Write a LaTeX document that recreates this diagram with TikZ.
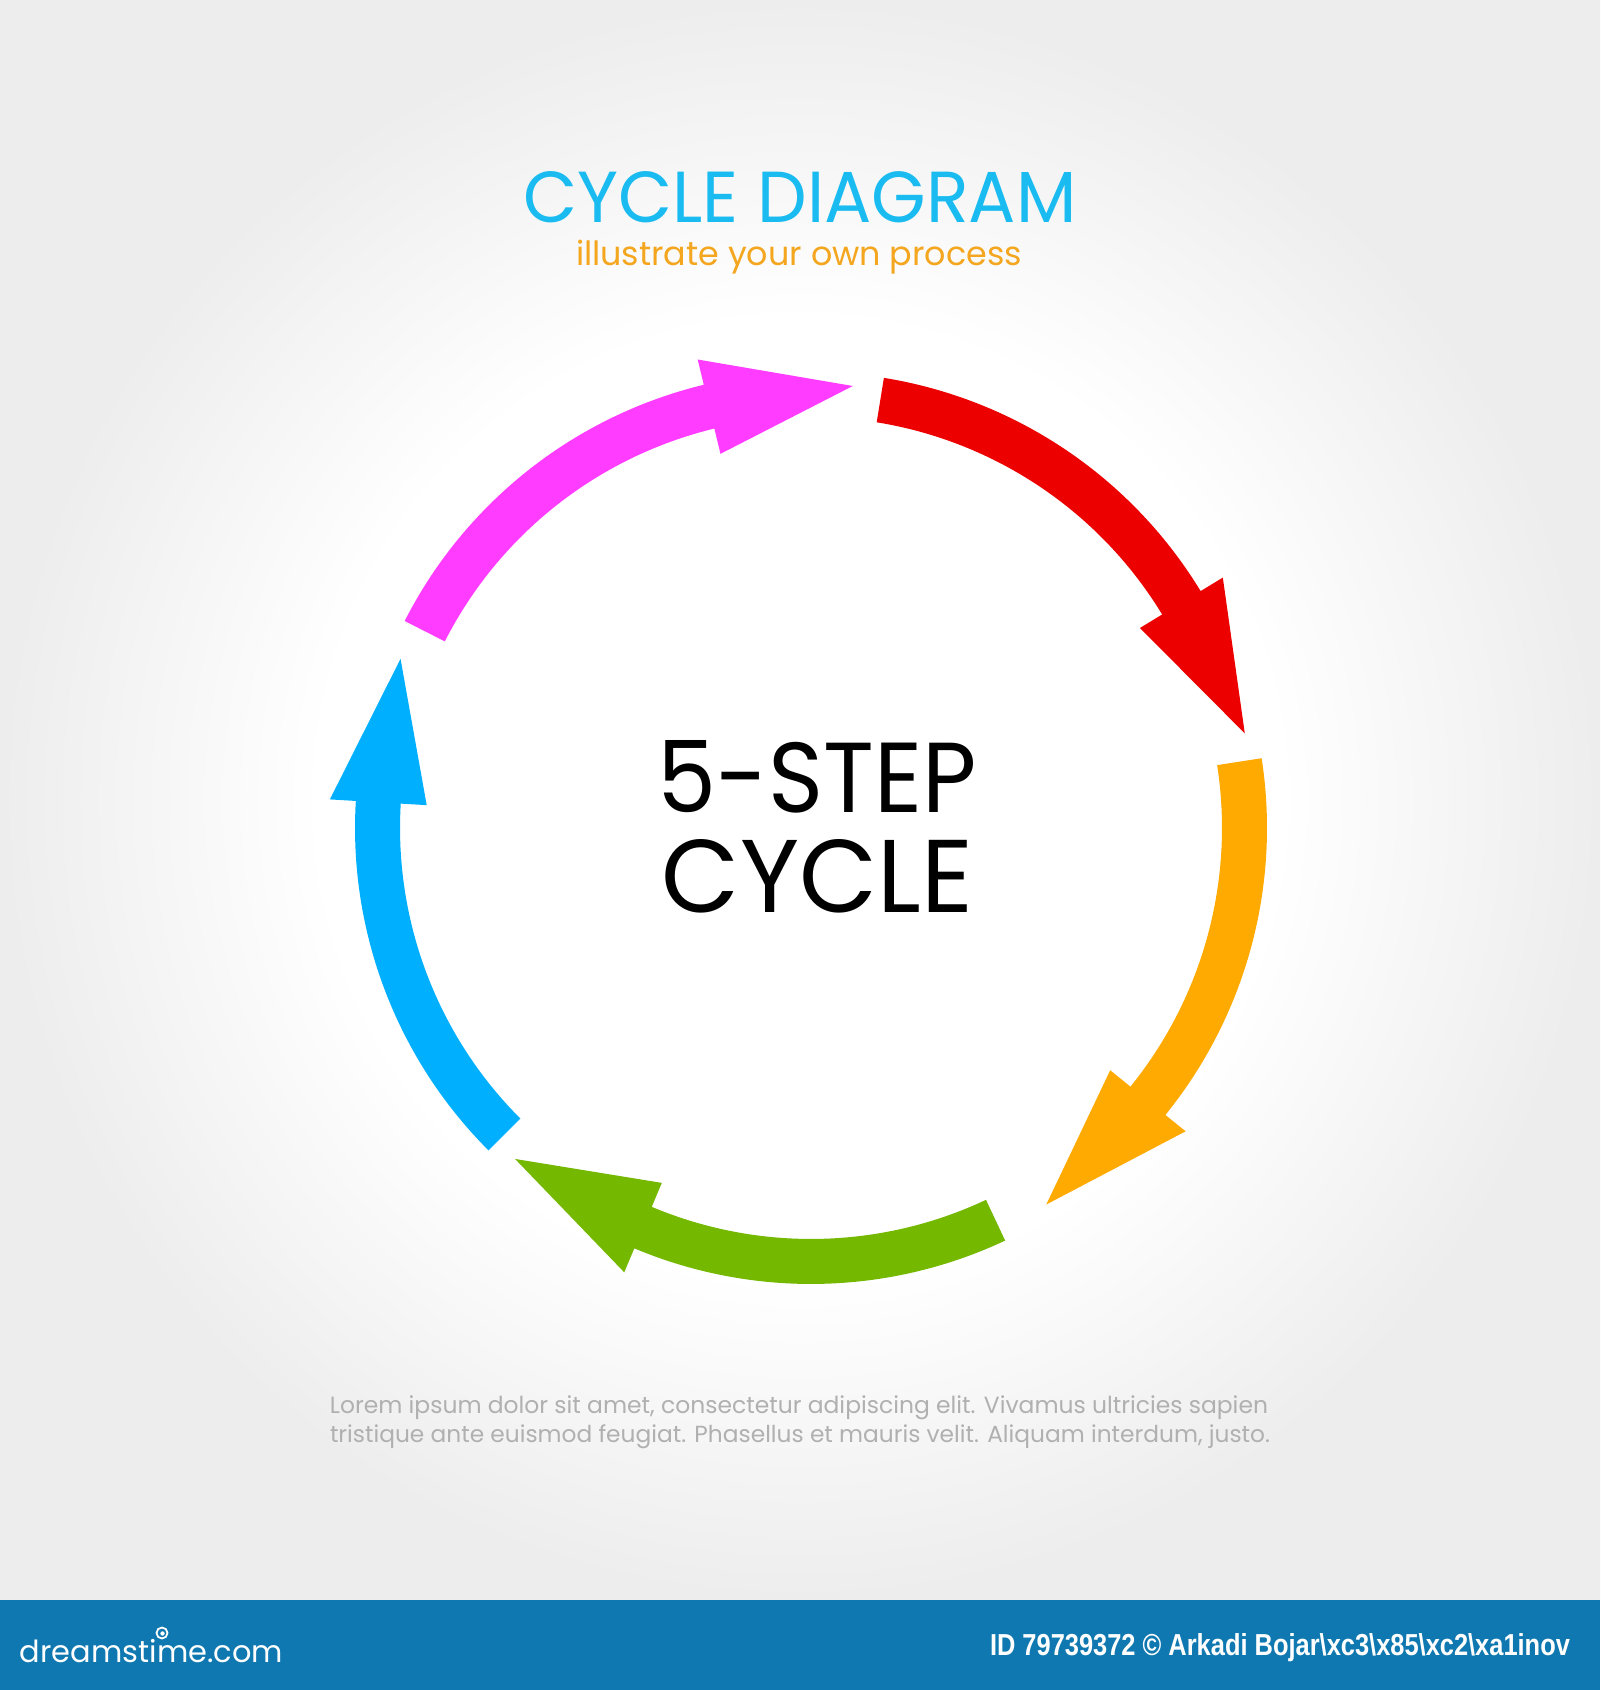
\documentclass[tikz,border=0pt]{standalone}
\usepackage{fontspec}
\setmainfont{Poppins}
\newfontfamily\creditfont{Liberation Sans}
\usepackage{graphicx}
\usetikzlibrary{calc}

\definecolor{cred}{RGB}{236,0,0}
\definecolor{corange}{RGB}{255,170,0}
\definecolor{cgreen}{RGB}{116,184,0}
\definecolor{cblue}{RGB}{0,176,255}
\definecolor{cmagenta}{RGB}{255,60,255}
\definecolor{titleblue}{RGB}{25,187,240}
\definecolor{suborange}{RGB}{243,166,30}
\definecolor{lorem}{RGB}{176,176,176}
\definecolor{barblue}{RGB}{16,120,176}
\definecolor{bgedge}{RGB}{237,237,237}

\pgfdeclareradialshading{bgglow}{\pgfpoint{0bp}{0bp}}{color(0bp)=(white); color(15bp)=(white); color(25bp)=(bgedge); color(50bp)=(bgedge)}

\begin{document}
\begin{tikzpicture}[x=0.1mm,y=0.1mm]
\tikzset{
  label text/.style={anchor=base,inner sep=0pt},
  bar text/.style={anchor=base,inner sep=0pt,text=white}
}
% background and bottom bar
\shade[shading=bgglow] (0,90) rectangle (1600,1690);
\fill[barblue] (0,0) rectangle (1600,90);
\useasboundingbox (0,0) rectangle (1600,1690);

% the five arrows round the circle
\coordinate (C) at (811,862);
\begin{scope}[shift={(C)}]
\foreach \col/\ta/\tb in {cred/80.8/12.3, corange/8.8/-58, cgreen/-64.8/-131.8, cblue/-135/-202.4, cmagenta/153/84.6}{
  \pgfmathsetmacro\tbase{\tb+19}
  \fill[\col] (\ta:45.6mm) arc[start angle=\ta, end angle=\tbase, radius=45.6mm]
    -- (\tbase:48.2mm) -- (\tb:44.4mm) -- (\tbase:38.5mm) -- (\tbase:41.1mm)
    arc[start angle=\tbase, end angle=\ta, radius=41.1mm] -- cycle;
}
\end{scope}

% texts
\node[label text,text=titleblue] (title) at (800,1467) {\resizebox{55.3mm}{5.1mm}{CYCLE DIAGRAM}};
\node[label text,text=suborange] (subtitle) at (799,1424) {\resizebox{44.6mm}{!}{illustrate your own process}};
\node[label text] (stepA) at (817.5,877) {\resizebox{31.9mm}{7.2mm}{5-STEP}};
\node[label text] (stepB) at (817.5,777) {\resizebox{31.1mm}{7.3mm}{CYCLE}};
\node[label text,text=lorem] (loremA) at (799,276) {\resizebox{93.8mm}{!}{Lorem ipsum dolor sit amet, consectetur adipiscing elit. Vivamus ultricies sapien}};
\node[label text,text=lorem] (loremB) at (800,247) {\resizebox{94mm}{!}{tristique ante euismod feugiat. Phasellus et mauris velit. Aliquam interdum, justo.}};

% bottom bar
\node[bar text] (site) at (151.5,27) {\resizebox{26.3mm}{!}{dreamstime.com}};
\draw[white,line width=0.18mm] (162,57) circle[radius=0.55mm];
\fill[white] (162.5,56.5) circle[radius=0.22mm];
\node[bar text] (credit) at (1280,34) {\resizebox{58mm}{2.2mm}{\creditfont\bfseries ID 79739372 \textcopyright{} Arkadi Bojar\textbackslash xc3\textbackslash x85\textbackslash xc2\textbackslash xa1inov}};
\end{tikzpicture}
\end{document}
